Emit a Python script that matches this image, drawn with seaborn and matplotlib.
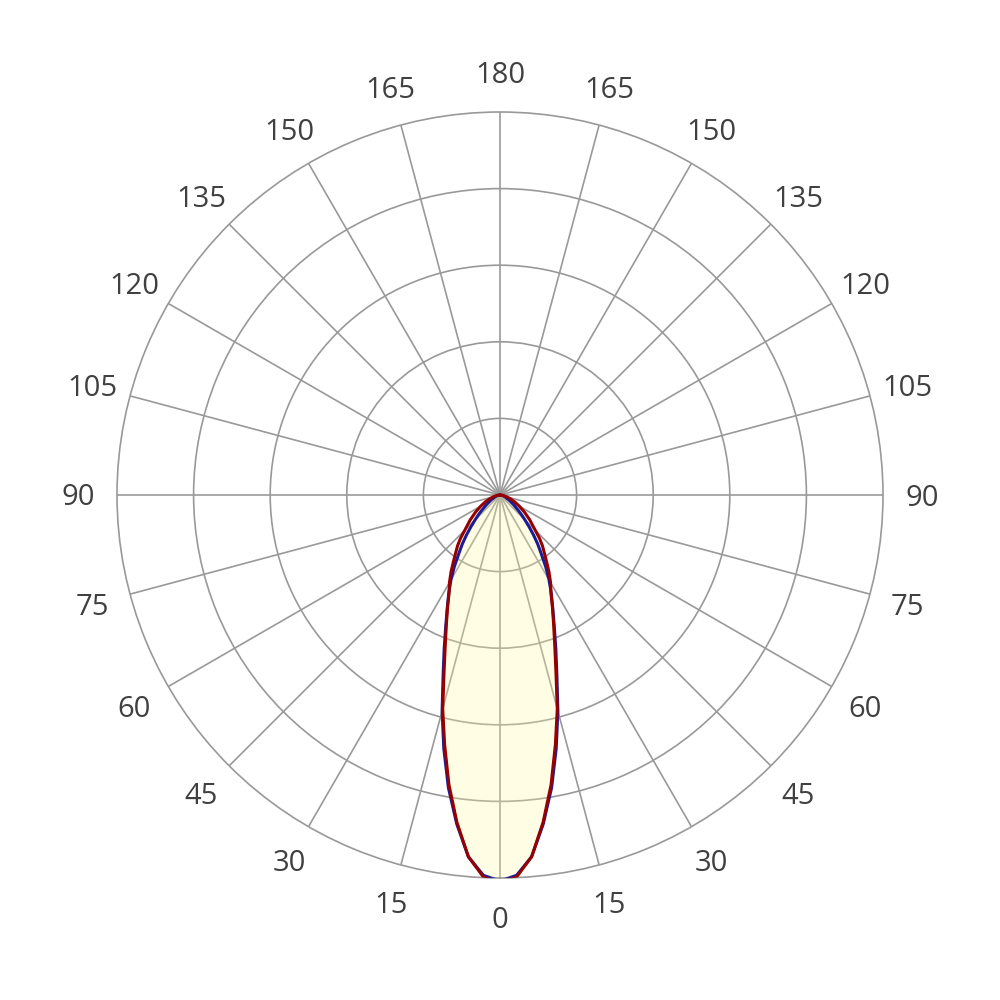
import numpy as np
import matplotlib
matplotlib.use("Agg")
import matplotlib.pyplot as plt
import matplotlib.transforms as mtransforms
import seaborn as sns

# Угол от надира (0) до горизонта (90), кривые симметричны относительно вертикали
angles = [0, 2.5, 5, 7.5, 10, 12.5, 15, 17.5, 20, 22.5, 25, 27.5, 30, 32.5, 35,
          37.5, 40, 42.5, 45, 47.5, 50, 55, 60, 65, 70, 75, 80, 85, 90]
plane_c0 = [507, 499, 474, 431, 384, 334, 289, 243, 209, 183, 162, 144, 132, 119, 106,
            95, 86, 76, 65, 57, 51, 39, 29, 21, 14, 9, 5, 3, 0]
plane_c90 = [504, 497, 474, 433, 388, 339, 292, 247, 213, 185, 163, 145, 128, 111, 94,
             81, 68, 56, 46, 38, 31, 21, 14, 9, 7, 4, 3, 1, 0]
ring_values = [100, 200, 300, 400]
r_max = 500
label_angles = list(range(0, 360, 15))
label_texts = [str(a if a <= 180 else 360 - a) for a in label_angles]


def full_curve(vals):
    a = np.array(angles, dtype=float)
    v = np.array(vals, dtype=float)
    th = np.concatenate([-a[::-1], a[1:]])
    rr = np.concatenate([v[::-1], v[1:]])
    return np.deg2rad(th), rr


sns.set_theme(style="white")
plt.rcParams["font.family"] = ["Open Sans", "DejaVu Sans"]

fig = plt.figure(figsize=(10, 10), dpi=100)
ax = fig.add_axes([0.117, 0.122, 0.766, 0.766], projection="polar")
ax.set_theta_zero_location("S")
ax.set_theta_direction(1)
ax.set_rlim(0, r_max)
ax.set_rgrids(ring_values, labels=[])
ax.set_thetagrids(label_angles, labels=[])
ax.grid(True, color="#999999", linewidth=1.2)
ax.spines["polar"].set_color("#999999")
ax.spines["polar"].set_linewidth(1.2)
ax.set_axisbelow(True)

th_a, r_a = full_curve(plane_c0)
th_b, r_b = full_curve(plane_c90)

# заливка светло-желтым по внешней огибающей
ax.fill(th_a, np.maximum(r_a, r_b), color="#fff8a0", alpha=0.28, linewidth=0, zorder=1)

sns.lineplot(x=th_b, y=r_b, ax=ax, sort=False, color="#1c1c96", linewidth=2.2, zorder=3)
sns.lineplot(x=th_a, y=r_a, ax=ax, sort=False, color="#960000", linewidth=2.2, zorder=4)
ax.set_xlabel("")
ax.set_ylabel("")

shift = mtransforms.offset_copy(ax.transData, fig=fig, x=0, y=-3, units="dots")
for a, t in zip(label_angles, label_texts):
    ax.text(np.deg2rad(a), r_max * 1.102, t, ha="center", va="center",
            fontsize=21, color="#404040", clip_on=False, transform=shift)

fig.savefig("out.png", dpi=100, facecolor="white")
